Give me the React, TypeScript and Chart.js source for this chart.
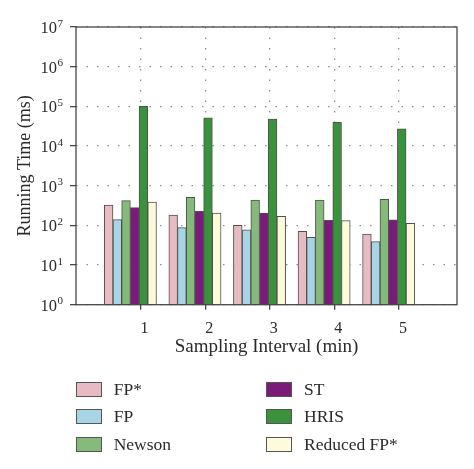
import { useEffect, useRef } from "react";
import { Chart, registerables } from "chart.js";

Chart.register(...registerables);

// Sampling intervals (min) on the x axis
const intervals = [1, 2, 3, 4, 5];

// Running time (ms) of each method per sampling interval
const fpStar = [325, 182, 100, 71, 60];
const fp = [140, 88, 77, 50, 39];
const newson = [420, 508, 435, 435, 453];
const st = [280, 226, 204, 134, 137];
const hris = [100000, 51000, 48000, 39600, 27000];
const reducedFpStar = [387, 205, 169, 132, 113];

const seriesNames = ["FP*", "FP", "Newson", "ST", "HRIS", "Reduced FP*"];
const seriesValues = [fpStar, fp, newson, st, hris, reducedFpStar];
const seriesColors = ["#e8bac2", "#a8d5e6", "#86ba7a", "#7c1a7c", "#3a933c", "#fefadc"];

// Decade exponents for the log y axis (10^0 .. 10^7)
const decadeExponents = [0, 1, 2, 3, 4, 5, 6, 7];

const FONT = "'Liberation Serif', 'DejaVu Serif', serif";
const TEXT = "#2a2a2a";
const AXIS = "#474747";
const GRID = "#8e8e8e";
// each group of bars sits slightly left of its tick
const GROUP_SHIFT = -0.158;

// Plot frame on all four sides
const framePlugin = {
  id: "frame",
  afterDatasetsDraw(chart: any) {
    const { ctx, chartArea: a } = chart;
    ctx.save();
    ctx.strokeStyle = AXIS;
    ctx.lineWidth = 1.3;
    ctx.strokeRect(a.left, a.top, a.right - a.left, a.bottom - a.top);
    ctx.restore();
  },
};

// Power-of-ten labels with a raised exponent for the log axis
const powerLabelsPlugin = {
  id: "powerLabels",
  afterDraw(chart: any) {
    const { ctx } = chart;
    const y = chart.scales.y;
    const right = chart.chartArea.left - 13;
    ctx.save();
    ctx.fillStyle = TEXT;
    ctx.textBaseline = "alphabetic";
    decadeExponents.forEach((n) => {
      const py = y.getPixelForValue(Math.pow(10, n));
      const exp = String(n);
      ctx.font = `11px ${FONT}`;
      const ew = ctx.measureText(exp).width;
      ctx.textAlign = "left";
      ctx.fillText(exp, right - ew, py - 0.5);
      ctx.font = `16.5px ${FONT}`;
      ctx.textAlign = "right";
      ctx.fillText("10", right - ew - 0.5, py + 6);
    });
    ctx.restore();
  },
};

export default function App() {
  const canvasRef = useRef<HTMLCanvasElement | null>(null);

  useEffect(() => {
    const canvas = canvasRef.current;
    if (!canvas) return;

    const chart = new Chart(canvas, {
      type: "bar",
      data: {
        datasets: seriesNames.map((name, i) => ({
          label: name,
          data: intervals.map((iv, k) => ({ x: iv + GROUP_SHIFT, y: seriesValues[i][k] })),
          backgroundColor: seriesColors[i],
          borderColor: "#505050",
          borderWidth: 1,
          borderSkipped: false,
          barThickness: 8.7,
        })),
      },
      options: {
        animation: false,
        responsive: true,
        maintainAspectRatio: false,
        layout: { padding: { left: 0, top: 27, right: 17, bottom: 110.8 } },
        plugins: { legend: { display: false }, tooltip: { enabled: false } },
        scales: {
          x: {
            type: "linear",
            min: 0,
            max: 5.9,
            offset: false,
            afterBuildTicks: (s: any) => {
              s.ticks = intervals.map((v) => ({ value: v }));
            },
            afterFit: (s: any) => {
              s.height = 53.5;
            },
            ticks: {
              callback: (v: any) => String(v),
              font: { family: FONT, size: 16 },
              color: TEXT,
              padding: 9,
              labelOffset: 4,
              maxRotation: 0,
              autoSkip: false,
            },
            grid: {
              offset: false,
              color: GRID,
              lineWidth: 1.3,
              tickLength: 5,
              tickColor: AXIS,
              tickWidth: 1.3,
              tickBorderDash: [],
            },
            border: { display: false, dash: [1.5, 9] },
            title: {
              display: true,
              text: "Sampling Interval (min)",
              font: { family: FONT, size: 19 },
              color: TEXT,
              padding: { top: 0, bottom: 0 },
            },
          },
          y: {
            type: "logarithmic",
            min: 1,
            max: 1e7,
            afterBuildTicks: (s: any) => {
              s.ticks = decadeExponents.map((n) => ({ value: Math.pow(10, n), major: true }));
            },
            afterFit: (s: any) => {
              s.width = 76;
            },
            ticks: {
              callback: () => "",
              font: { family: FONT, size: 16 },
              color: TEXT,
              padding: 7,
              autoSkip: false,
            },
            grid: {
              color: GRID,
              lineWidth: 1.3,
              tickLength: 6,
              tickColor: AXIS,
              tickWidth: 1.3,
              tickBorderDash: [],
            },
            border: { display: false, dash: [1.5, 9] },
            title: {
              display: true,
              text: "Running Time (ms)",
              font: { family: FONT, size: 18 },
              color: TEXT,
              padding: { top: 14, bottom: 0 },
            },
          },
        },
      },
      plugins: [framePlugin, powerLabelsPlugin],
    } as any);

    return () => chart.destroy();
  }, []);

  const legendCols = [75.7, 266];
  const legendRows = [382, 409.3, 436.7];

  return (
    <div
      style={{
        position: "fixed",
        left: 0,
        top: 0,
        width: 474,
        height: 469,
        background: "#ffffff",
      }}
    >
      <canvas ref={canvasRef} style={{ display: "block" }} />
      {seriesNames.map((name, i) => {
        const col = Math.floor(i / 3);
        const row = i % 3;
        return (
          <div
            key={name}
            style={{
              position: "absolute",
              left: legendCols[col],
              top: legendRows[row],
              height: 15,
              display: "flex",
              alignItems: "center",
              whiteSpace: "nowrap",
            }}
          >
            <div
              style={{
                width: 24,
                height: 13,
                background: seriesColors[i],
                border: "1px solid #555",
                marginRight: 12,
              }}
            />
            <span style={{ fontFamily: FONT, fontSize: 17.5, color: TEXT, lineHeight: "15px" }}>
              {name}
            </span>
          </div>
        );
      })}
    </div>
  );
}
